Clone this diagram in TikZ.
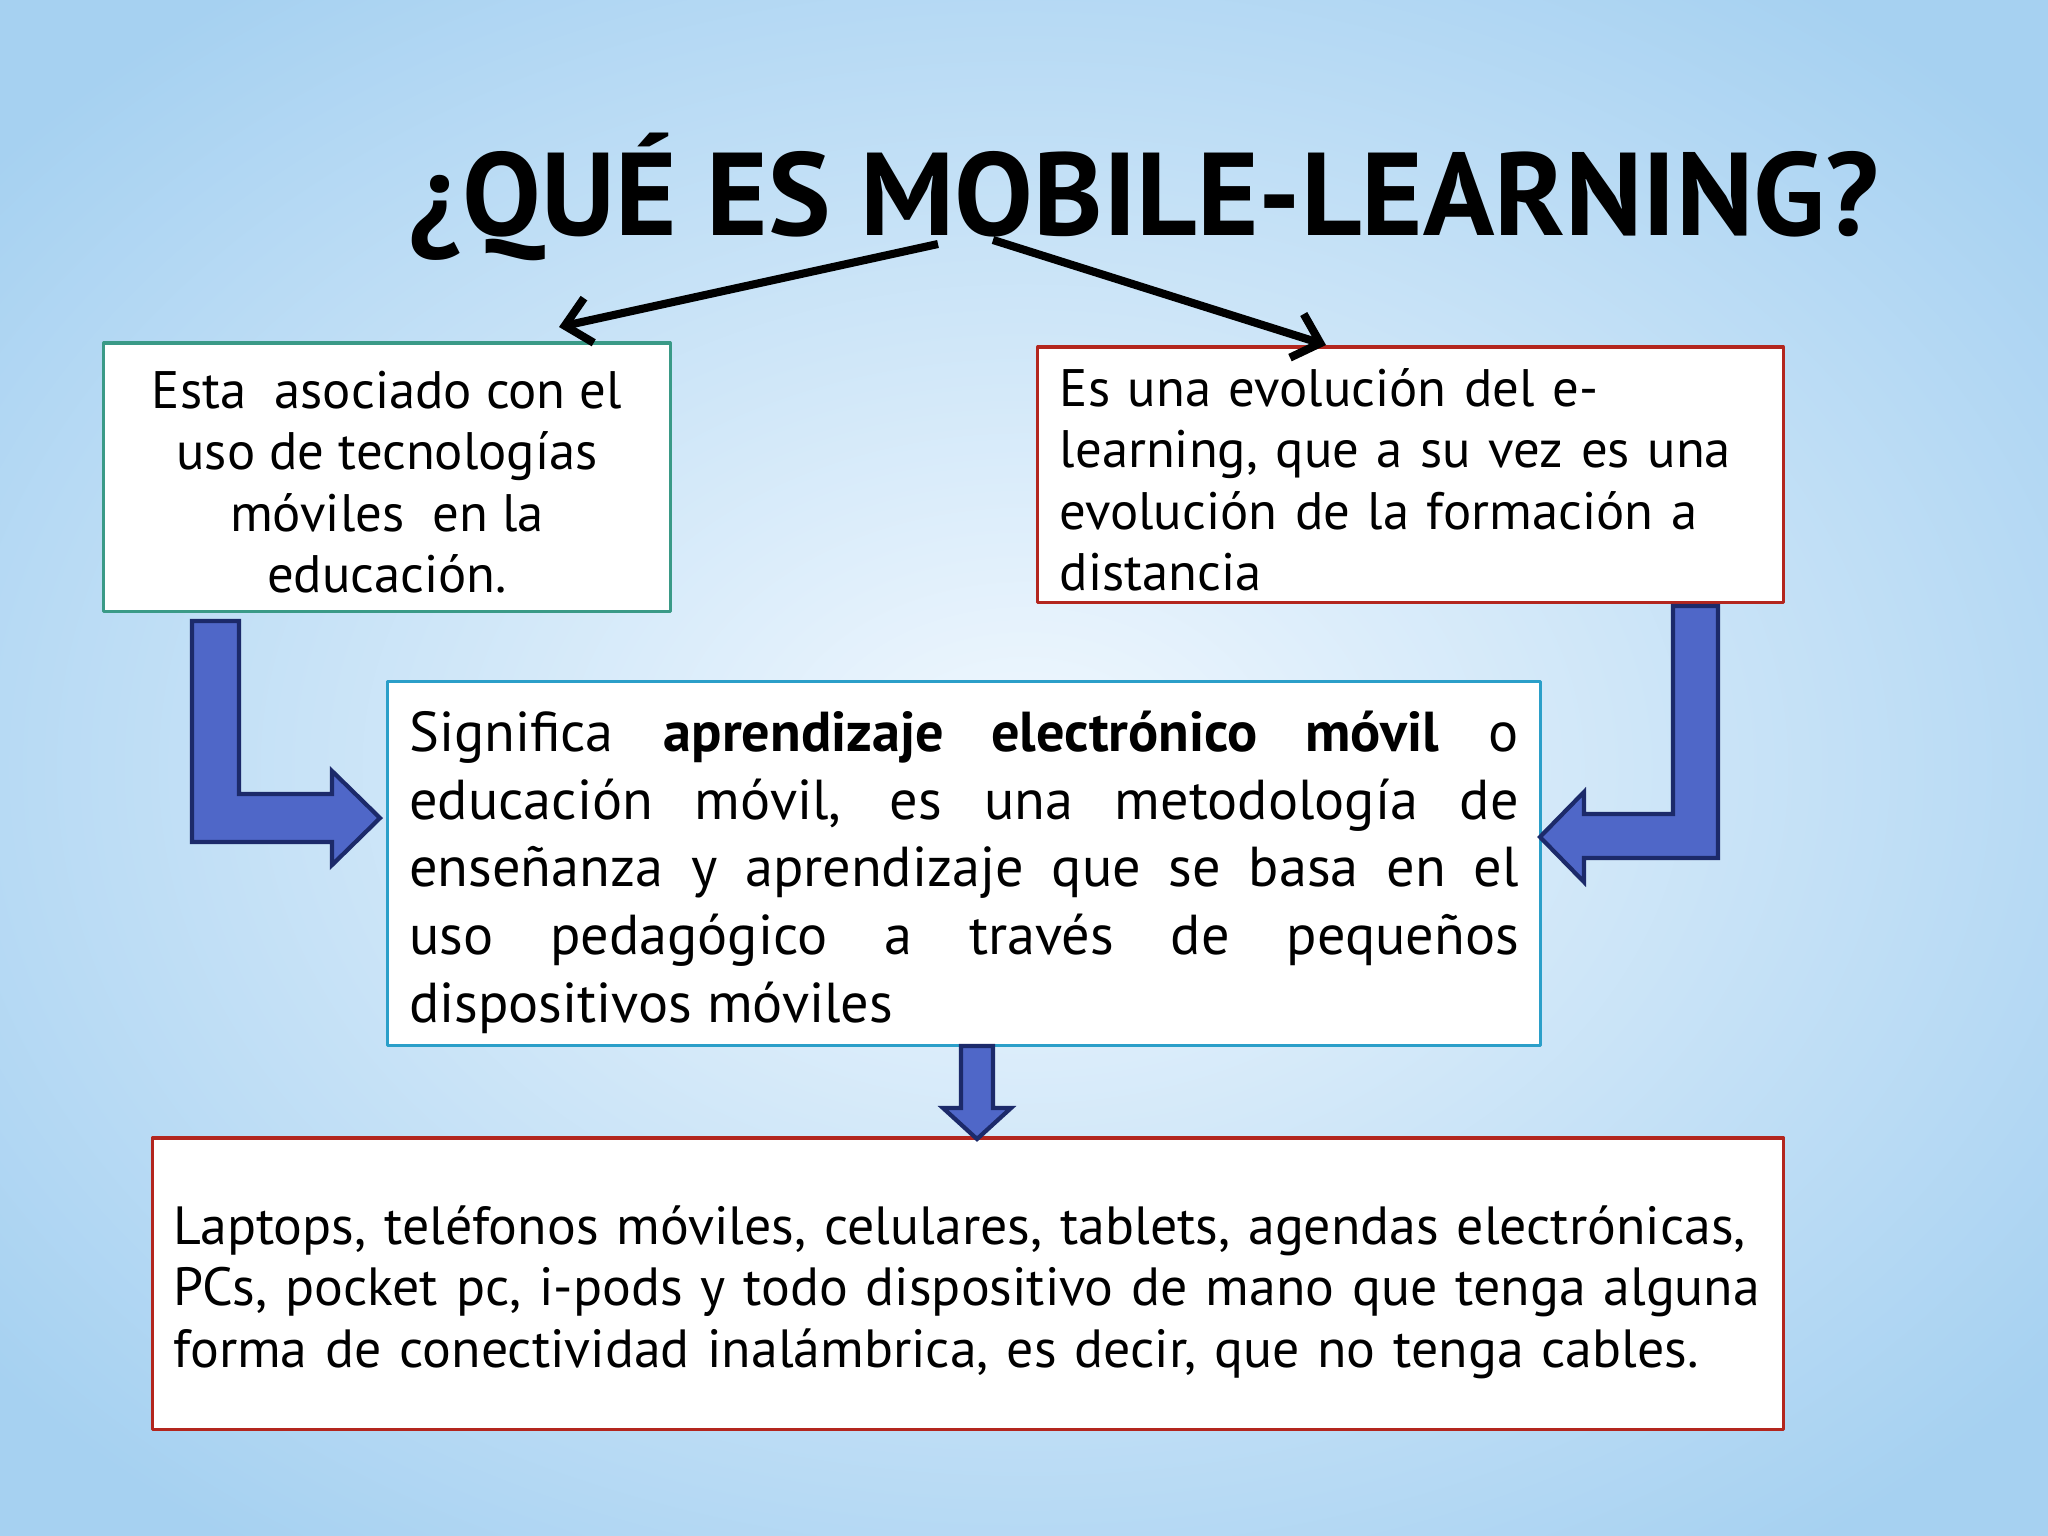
\documentclass[tikz,border=0pt]{standalone}
\usepackage{fontspec}
\setmainfont{PT Sans}
\usetikzlibrary{arrows.meta}
\definecolor{fondoA}{HTML}{F1F8FE}
\definecolor{fondoB}{HTML}{A6D1F1}
\definecolor{verdeC}{HTML}{3A9A87}
\definecolor{rojoC}{HTML}{B3261E}
\definecolor{azulC}{HTML}{2B9FC9}
\definecolor{flechaR}{HTML}{4F67C8}
\definecolor{flechaB}{HTML}{1C2A6A}
\newcommand{\alza}[1]{\rule{0pt}{#1}}
\begin{document}
\begin{tikzpicture}[x=0.01cm, y=-0.01cm, line join=round,
	caja/.style={draw, fill=white, line width=0.9pt, inner sep=0pt},
	texto/.style={font=\fontsize{15}{17.4}\selectfont},
	bloque/.style={fill=flechaR, draw=flechaB, line width=1.2pt, line join=miter},
	raya/.style={line width=2.3pt, line cap=butt, -{Straight Barb[length=7pt,width=13pt,line cap=butt]}}]
	% fondo
	\useasboundingbox (0,0) rectangle (2048,1536);
	\shade[inner color=fondoA, outer color=fondoB] (-300,-200) rectangle (2348,1736);
	\node[font=\fontsize{33.5}{40}\selectfont\bfseries, anchor=base, inner sep=0pt] (titulo) at (1144,235) {¿QUÉ ES MOBILE-LEARNING?};
	% cajas
	\node[caja, draw=verdeC, minimum width=5.66cm, minimum height=2.68cm, align=center, texto] (asociado) at (387,477)
		{\alza{13.5pt}Esta\ \ asociado con el\\uso de tecnologías\\móviles\ \ en la\\educación.};
	\node[caja, draw=rojoC, minimum width=7.45cm, minimum height=2.55cm, text width=7.01cm, align=left, texto] (evolucion) at (1410.5,474.5)
		{\alza{13.8pt}Es una evolución del e-\\learning, que a su vez es una\\evolución de la formación a\\distancia};
	\node[caja, draw=azulC, minimum width=11.52cm, minimum height=3.63cm, text width=11.09cm, align=justify, font=\fontsize{16}{19.3}\selectfont] (significa) at (964,863.5)
		{\alza{16.5pt}Significa \textbf{aprendizaje electrónico móvil} o\linebreak educación móvil, es una metodología de\linebreak enseñanza y aprendizaje que se basa en el\linebreak uso pedagógico a través de pequeños\linebreak dispositivos móviles};
	\node[caja, draw=rojoC, minimum width=16.30cm, minimum height=2.91cm, text width=15.88cm, align=left, font=\fontsize{15.3}{17.4}\selectfont] (dispositivos) at (968,1283.5)
		{\alza{16pt}Laptops, teléfonos móviles, celulares, tablets, agendas electrónicas,\\PCs, pocket pc, i-pods y todo dispositivo de mano que tenga alguna\\forma de conectividad inalámbrica, es decir, que no tenga cables.};
	% flechas del titulo
	\coordinate (t1) at (938,244); \coordinate (t2) at (993,240);
	\coordinate (f1) at (559,327); \coordinate (f2) at (1326,345);
	\draw[raya] (t1) -- (f1);
	\draw[raya] (t2) -- (f2);
	% flechas de bloque
	\draw[bloque] (192,621) -- (239,621) -- (239,794) -- (332,794) -- (332,771) -- (380,818) -- (332,865) -- (332,842) -- (192,842) -- cycle;
	\draw[bloque] (1673,606) -- (1718,606) -- (1718,858) -- (1584,858) -- (1584,882) -- (1540,837) -- (1584,792) -- (1584,814) -- (1673,814) -- cycle;
	\draw[bloque] (961,1046) -- (993,1046) -- (993,1108) -- (1011,1108) -- (977,1139) -- (943,1108) -- (961,1108) -- cycle;
\end{tikzpicture}
\end{document}
